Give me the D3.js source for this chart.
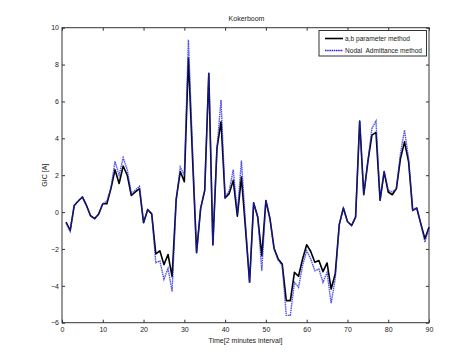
<!DOCTYPE html>
<html>
<head>
<meta charset="utf-8">
<script src="https://cdn.jsdelivr.net/npm/d3@7"></script>
<style>
  body { margin: 0; background: #fff; }
  svg text { font-family: "Liberation Sans", Arial, sans-serif; fill: #222; }
</style>
</head>
<body>
<script>
// time steps 1..90 (2 minute samples)
var steps = d3.range(1, 91);

// a,b parameter method (black solid)
var abParam = [
  -0.55, -1.0, 0.36, 0.6, 0.82, 0.36, -0.2, -0.36, -0.1, 0.45,
  0.45, 1.27, 2.3, 1.55, 2.5, 2.0, 0.9, 1.1, 1.27, -0.58,
  0.13, -0.1, -2.27, -2.1, -2.85, -2.3, -3.5, 0.7, 2.2, 1.65,
  8.35, 3.0, -2.2, 0.2, 1.18, 7.53, -1.78, 3.45, 4.9, 0.76,
  1.0, 1.72, -0.22, 1.9, -0.9, -3.8, 0.5, -0.27, -2.36, 0.63,
  -0.36, -1.96, -2.54, -2.81, -4.8, -4.8, -3.27, -3.48, -2.54, -1.77,
  -2.14, -2.72, -2.63, -3.23, -2.76, -4.17, -3.36, -0.67, 0.22, -0.51,
  -0.73, -0.27, 4.94, 0.94, 2.72, 4.17, 4.32, 0.64, 2.18, 1.09,
  0.94, 1.27, 2.9, 3.81, 2.72, 0.09, 0.22, -0.64, -1.45, -0.82
];

// Nodal Admittance method (blue dotted)
var nodalAdm = [
  -0.6, -1.05, 0.36, 0.6, 0.82, 0.36, -0.2, -0.36, -0.1, 0.45,
  0.6, 1.3, 2.75, 2.0, 2.95, 2.3, 1.0, 1.2, 1.4, -0.58,
  0.13, -0.1, -2.75, -2.65, -3.65, -3.05, -4.3, 0.6, 2.45, 2.0,
  9.35, 3.5, -2.2, 0.2, 1.18, 7.53, -1.78, 3.45, 6.08, 0.8,
  1.15, 2.3, -0.1, 2.8, -0.6, -3.85, 0.5, -0.27, -3.18, 0.63,
  -0.36, -2.0, -2.6, -2.9, -5.6, -5.6, -3.8, -4.08, -2.9, -2.09,
  -2.54, -3.18, -3.09, -3.81, -3.27, -4.94, -3.63, -0.67, 0.22, -0.51,
  -0.73, -0.27, 4.94, 0.94, 2.72, 4.54, 4.94, 0.64, 2.23, 1.18,
  1.09, 1.27, 3.18, 4.45, 2.9, 0.09, 0.22, -0.64, -1.63, -0.82
];

var xTicks = d3.range(0, 91, 10);
var yTicks = d3.range(-6, 11, 2);
var legendLabels = ["a,b parameter method", "Nodal  Admittance method"];

var width = 474, height = 363;
var margin = {top: 27.7, right: 45, bottom: 40.3, left: 62};

var svg = d3.select("body").append("svg")
    .attr("width", width)
    .attr("height", height);

var x = d3.scaleLinear().domain([0, 90]).range([margin.left, width - margin.right]);
var y = d3.scaleLinear().domain([-6, 10]).range([height - margin.bottom, margin.top]);

// plot box
svg.append("rect")
    .attr("x", x(0)).attr("y", y(10))
    .attr("width", x(90) - x(0)).attr("height", y(-6) - y(10))
    .attr("fill", "#fff").attr("stroke", "#333").attr("stroke-width", 1);

// axes, ticks pointing inward like matlab
function styleAxis(g) {
    g.select(".domain").remove();
    g.selectAll(".tick line").attr("stroke", "#333");
    g.selectAll(".tick text").attr("font-size", 7).attr("fill", "#222");
}

svg.append("g")
    .attr("transform", "translate(0," + y(-6) + ")")
    .call(d3.axisBottom(x).tickValues(xTicks).tickSizeInner(-3).tickSizeOuter(0).tickPadding(4))
    .call(styleAxis);

svg.append("g")
    .attr("transform", "translate(0," + y(10) + ")")
    .call(d3.axisTop(x).tickValues(xTicks).tickSizeInner(-3).tickSizeOuter(0).tickFormat(""))
    .call(styleAxis);

svg.append("g")
    .attr("transform", "translate(" + x(0) + ",0)")
    .call(d3.axisLeft(y).tickValues(yTicks).tickSizeInner(-3).tickSizeOuter(0).tickPadding(3))
    .call(styleAxis);

svg.append("g")
    .attr("transform", "translate(" + x(90) + ",0)")
    .call(d3.axisRight(y).tickValues(yTicks).tickSizeInner(-3).tickSizeOuter(0).tickFormat(""))
    .call(styleAxis);

// lines
var line = function(vals) {
    return d3.line()
        .x(function(d, i) { return x(steps[i]); })
        .y(function(d) { return y(d); })(vals);
};

var blue = "#2222e6";

svg.append("path")
    .attr("d", line(abParam))
    .attr("fill", "none")
    .attr("stroke", "#000")
    .attr("stroke-width", 1.6)
    .attr("stroke-linejoin", "round");

svg.append("path")
    .attr("d", line(nodalAdm))
    .attr("fill", "none")
    .attr("stroke", blue)
    .attr("stroke-width", 1.4)
    .attr("stroke-opacity", 0.8)
    .attr("stroke-dasharray", "1.5,0.7");

// title and axis labels
svg.append("text")
    .attr("x", (x(0) + x(90)) / 2 + 1).attr("y", 21)
    .attr("text-anchor", "middle").attr("font-size", 7)
    .text("Kokerboom");

svg.append("text")
    .attr("x", (x(0) + x(90)) / 2).attr("y", 343)
    .attr("text-anchor", "middle").attr("font-size", 7)
    .text("Time[2 minutes interval]");

svg.append("text")
    .attr("transform", "translate(47," + ((y(10) + y(-6)) / 2) + ") rotate(-90)")
    .attr("text-anchor", "middle").attr("font-size", 7)
    .text("GIC [A]");

// legend
var legend = svg.append("g").attr("transform", "translate(319,30.5)");
legend.append("rect")
    .attr("width", 107.5).attr("height", 25.5)
    .attr("fill", "#fff").attr("stroke", "#333").attr("stroke-width", 1);

var legendStyles = [
    {stroke: "#000", width: 1.6, dash: null, len: 65},
    {stroke: blue, width: 1.4, dash: "1.5,0.7", len: 77}
];

legendLabels.forEach(function(lbl, i) {
    var yy = 8 + i * 12;
    legend.append("line")
        .attr("x1", 6).attr("x2", 24).attr("y1", yy).attr("y2", yy)
        .attr("stroke", legendStyles[i].stroke)
        .attr("stroke-width", legendStyles[i].width)
        .attr("stroke-dasharray", legendStyles[i].dash);
    legend.append("text")
        .attr("x", 26).attr("y", yy + 2.5)
        .attr("font-size", 7)
        .attr("textLength", legendStyles[i].len)
        .attr("lengthAdjust", "spacingAndGlyphs")
        .style("white-space", "pre")
        .text(lbl);
});
</script>
</body>
</html>
